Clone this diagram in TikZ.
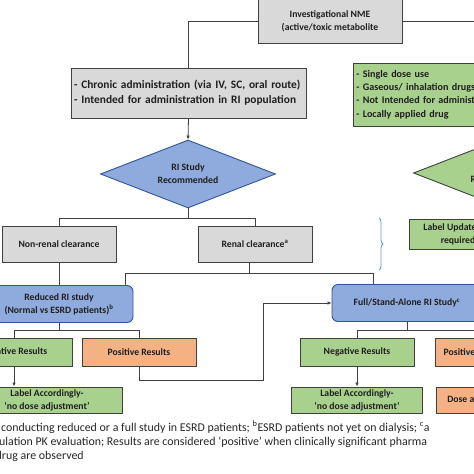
\documentclass[tikz,border=0pt]{standalone}
\usepackage{fontspec}
\setmainfont{Carlito}
\usetikzlibrary{shapes.geometric,arrows.meta,decorations.pathreplacing}
\definecolor{boxline}{HTML}{404040}
\definecolor{greyfill}{HTML}{D9D9D9}
\definecolor{bluefill}{HTML}{8FAADC}
\definecolor{blueline}{HTML}{2F5597}
\definecolor{greenfill}{HTML}{A9D18E}
\definecolor{orangefill}{HTML}{F4B183}
\definecolor{bracecol}{HTML}{5B9BD5}
\definecolor{textdark}{HTML}{1F1F1F}

\begin{document}
\begin{tikzpicture}[x=1pt, y=-1pt]
\useasboundingbox (0,0) rectangle (474,474);
\clip (0,0) rectangle (474,474);
\tikzstyle{boxStyle}=[draw = boxline, line width = 0.9pt, text = textdark, align = center, inner sep = 2pt, font = \bfseries\fontsize{9.7}{13}\selectfont]
\tikzstyle{greyStyle}=[boxStyle, fill = greyfill]
\tikzstyle{greenStyle}=[boxStyle, fill = greenfill, minimum height = 28pt]
\tikzstyle{orangeStyle}=[boxStyle, fill = orangefill, minimum height = 28pt]
\tikzstyle{studyStyle}=[boxStyle, draw = blueline, fill = bluefill, rounded corners = 6pt, minimum height = 37pt]
\tikzstyle{decisionStyle}=[boxStyle, shape = diamond, aspect = 2.6, inner sep = 0pt, minimum width = 175pt, minimum height = 68pt]
\tikzstyle{lineStyle}=[draw = boxline, line width = 0.8pt]
\tikzstyle{arrowStyle}=[lineStyle, -{Latex[length = 4pt, width = 3.5pt]}]
\tikzstyle{noteStyle}=[anchor = west, inner sep = 0pt, font = \fontsize{11.9}{13}\selectfont, text = black!85]
\node[greyStyle, minimum width = 144pt, minimum height = 44pt] (nme) at (330, 21) {Investigational NME\\(active/toxic metabolite};
\node[greyStyle, text width = 229pt, inner xsep = 3pt, minimum height = 50pt, align = left, font = \bfseries\fontsize{11.4}{15}\selectfont] (chronic) at (188.5, 93) {- Chronic administration (via IV, SC, oral route)\\- Intended for administration in RI population};
\node[decisionStyle, fill = bluefill, draw = blueline] (ristudy) at (188, 174) {RI Study\\Recommended};
\node[greyStyle, fill = greenfill, text width = 160pt, inner xsep = 3pt, minimum height = 63pt, align = left, font = \bfseries\fontsize{10.1}{13.3}\selectfont, anchor = west] (otheruse) at (353, 94.5) {- Single dose use\\- Gaseous/ inhalation drugs;\\- Not Intended for administration\\- Locally applied drug};
\node[decisionStyle, fill = greenfill] (nostudy) at (501, 173) {RI Study Not\\Recommended};
\node[greenStyle, minimum width = 98pt, minimum height = 30pt] (labelupd) at (458, 234) {Label Update not\\required};
\node[greyStyle, minimum width = 114pt, minimum height = 36pt] (nonrenal) at (59, 244) {Non-renal clearance};
\node[greyStyle, minimum width = 114pt, minimum height = 36pt] (renal) at (255, 244) {Renal clearance\textsuperscript{a}};
\node[studyStyle, minimum width = 148pt] (reduced) at (59, 304) {Reduced RI study\\(Normal vs ESRD patients)\textsuperscript{b}};
\node[studyStyle, minimum width = 150pt] (full) at (407, 303) {Full/Stand-Alone RI Study\textsuperscript{c}};
\node[greenStyle, minimum width = 116pt] (negleft) at (14, 352) {Negative Results};
\node[orangeStyle, minimum width = 114pt] (posleft) at (139, 352) {Positive Results};
\node[greenStyle, minimum width = 114pt] (negright) at (357, 352) {Negative Results};
\node[orangeStyle, minimum width = 80pt] (posright) at (475, 352) {Positive Results};
\node[greenStyle, minimum width = 150pt, minimum height = 26pt] (labelleft) at (47, 400) {Label Accordingly-\\‘no dose adjustment’};
\node[greenStyle, minimum width = 131pt, minimum height = 26pt] (labelright) at (357, 400) {Label Accordingly-\\‘no dose adjustment’};
\node[orangeStyle, minimum width = 90pt, minimum height = 26pt, anchor = west] (doseadj) at (436, 400) {Dose adjustment};
\node[noteStyle] (note1) at (1, 427) {conducting reduced or a full study in ESRD patients; \textsuperscript{b}ESRD patients not yet on dialysis; \textsuperscript{c}a};
\node[noteStyle] (note2) at (-1, 442) {ulation PK evaluation; Results are considered ‘positive’ when clinically significant pharma};
\node[noteStyle] (note3) at (-4.5, 456) {drug are observed};
\coordinate (offright) at (480, 21);
\coordinate (bend) at (263, 380);
\draw[lineStyle] (nme.west) -| (chronic.north);
\draw[lineStyle] (nme.east) -- (offright);
\draw[arrowStyle] (chronic.south) -- (ristudy.north);
\draw[lineStyle] (ristudy.south) -- ++(0, 10) -| (nonrenal.north);
\draw[lineStyle] (ristudy.south) -- ++(0, 10) -| (renal.north);
\draw[lineStyle] (nonrenal.south) -- (reduced.north);
\draw[lineStyle] ([xshift = -6pt]renal.south) -- ++(0, 11) coordinate (rsplit);
\draw[lineStyle] (rsplit) -| ([xshift = 66pt]reduced.north);
\draw[lineStyle] (rsplit) -| ([xshift = -34pt]full.north);
\draw[lineStyle] (reduced.south) -- ++(0, 7) -| (negleft.north);
\draw[lineStyle] (reduced.south) -- ++(0, 7) -| (posleft.north);
\draw[arrowStyle] (posleft.south) |- (bend) |- (full.west);
\draw[arrowStyle] (negleft.south) -- (negleft.south |- labelleft.north);
\draw[lineStyle] (full.south) -- ++(0, 8) -| (negright.north);
\draw[lineStyle] (full.south) -- ++(0, 8) -| (posright.north);
\draw[arrowStyle] (negright.south) -- (labelright.north);
\draw[decorate, decoration = {brace, amplitude = 4pt}, draw = bracecol, line width = 0.8pt] (379, 218) -- (379, 270);
\end{tikzpicture}
\end{document}
